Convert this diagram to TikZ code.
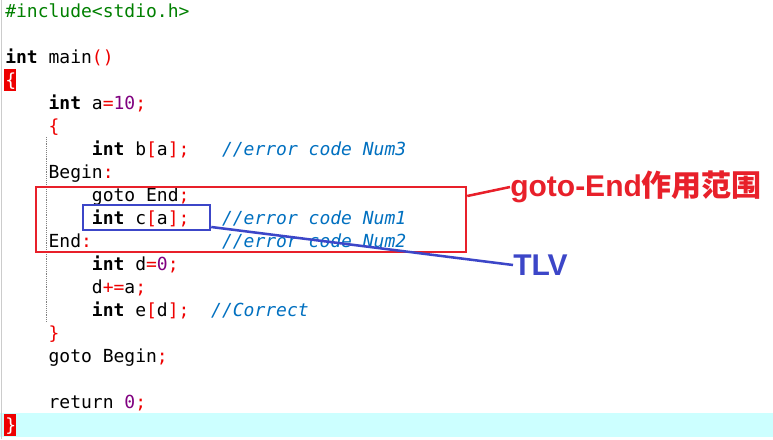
\documentclass[tikz,border=0pt]{standalone}
\usepackage{fontspec}
\setmonofont{DejaVu Sans Mono}
\newfontfamily\lbl{Liberation Sans}
\newfontfamily\cjk{Noto Sans CJK SC}
\definecolor{pp}{HTML}{008000}
\definecolor{cm}{HTML}{0070C0}
\definecolor{nm}{HTML}{800080}
\definecolor{op}{HTML}{EE0000}
\definecolor{rbox}{HTML}{E8202A}
\definecolor{bbox}{HTML}{3C46C8}
\definecolor{hl}{HTML}{CCFFFF}
\newcommand{\Kw}[1]{\textbf{#1}}
\newcommand{\Op}[1]{\textcolor{op}{#1}}
\newcommand{\Nm}[1]{\textcolor{nm}{#1}}
\newcommand{\Cm}[1]{\textcolor{cm}{\itshape #1}}
\begin{document}
\begin{tikzpicture}[x=0.75pt,y=-0.75pt,
  code/.style={anchor=base west,inner sep=0pt,font=\ttfamily\fontsize{13.5}{14}\selectfont},
  lab/.style={anchor=west,inner sep=0pt,font=\bfseries\fontsize{22.5}{23}\selectfont},
  frame/.style={line width=1.9pt,inner sep=0pt}]
\useasboundingbox (0,0) rectangle (773,439);
\fill[white] (0,0) rectangle (773,439);
\fill[hl] (0,413) rectangle (773,437);
\draw[gray!40] (1.5,0) -- (1.5,439);
\draw[gray,densely dotted] (46,137) -- (46,250);
\draw[gray,densely dotted] (46,252) -- (46,322);
\node[code] (l1) at (5,17) {\textcolor{pp}{\#include<stdio.h>}};
\node[code] (l3) at (5,63) {\Kw{int} main\Op{()}};
\fill[op] (4,69) rectangle (16,91);
\node[code] (l4) at (5,86) {\textcolor{white}{\{}};
\node[code] (l5) at (5,109) {\phantom{xxxx}\Kw{int} a\Op{=}\Nm{10}\Op{;}};
\node[code] (l6) at (5,132) {\phantom{xxxx}\Op{\{}};
\node[code] (l7) at (5,155) {\phantom{xxxxxxxx}\Kw{int} b\Op{[}a\Op{];}\phantom{xxx}\Cm{//error code Num3}};
\node[code] (l8) at (5,178) {\phantom{xxxx}Begin\Op{:}};
\node[code] (l9) at (5,201) {\phantom{xxxxxxxx}goto End\Op{;}};
\node[code] (l10) at (5,224) {\phantom{xxxxxxxx}\Kw{int} c\Op{[}a\Op{];}\phantom{xxx}\Cm{//error code Num1}};
\node[code] (l11) at (5,247) {\phantom{xxxx}End\Op{:}\phantom{xxxxxxxxxxxx}\Cm{//error code Num2}};
\node[code] (l12) at (5,270) {\phantom{xxxxxxxx}\Kw{int} d\Op{=}\Nm{0}\Op{;}};
\node[code] (l13) at (5,293) {\phantom{xxxxxxxx}d\Op{+=}a\Op{;}};
\node[code] (l14) at (5,316) {\phantom{xxxxxxxx}\Kw{int} e\Op{[}d\Op{];}\phantom{xx}\Cm{//Correct}};
\node[code] (l15) at (5,339) {\phantom{xxxx}\Op{\}}};
\node[code] (l16) at (5,362) {\phantom{xxxx}goto Begin\Op{;}};
\node[code] (l18) at (5,408) {\phantom{xxxx}return \Nm{0}\Op{;}};
\fill[op] (4,414) rectangle (16,436);
\node[code] (l19) at (5,431) {\textcolor{white}{\}}};
\node[draw=rbox,frame,minimum width=430*0.75pt,minimum height=65*0.75pt] (rb) at (251,219.5) {};
\node[draw=bbox,frame,minimum width=127*0.75pt,minimum height=25*0.75pt] (bb) at (146.5,217.5) {};
\node[lab,text=rbox] (gl) at (510,187) {{\lbl goto-End}{\cjk 作用范围}};
\node[lab,text=bbox] (tl) at (513,265) {\lbl TLV};
\draw[rbox,line width=1.9pt] (rb.north east|-0,196) -- (gl.west);
\draw[bbox,line width=1.9pt] (bb.east|-0,227) -- (tl.west);
\end{tikzpicture}
\end{document}
